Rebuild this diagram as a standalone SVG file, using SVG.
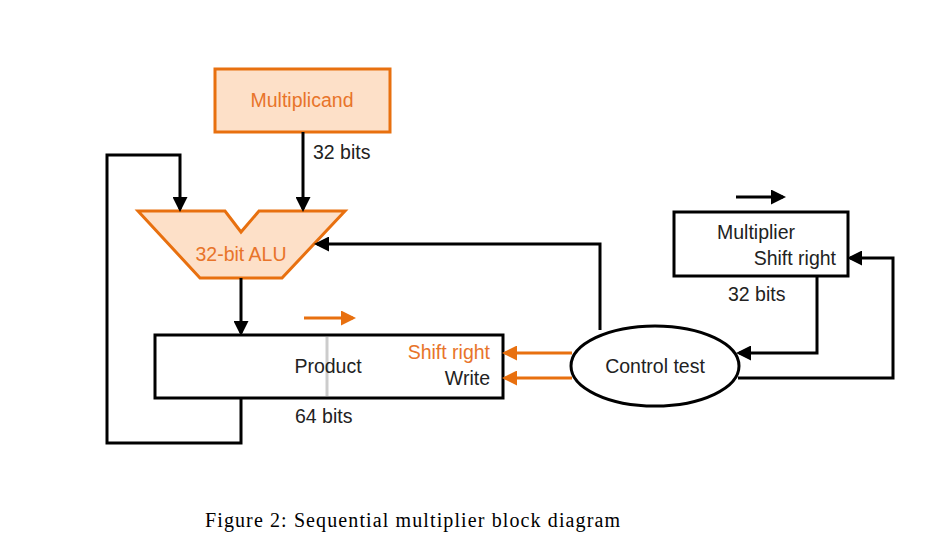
<svg xmlns="http://www.w3.org/2000/svg" width="950" height="547" viewBox="0 0 950 547">
<style>
.t{font-family:"Liberation Sans",Arial,sans-serif;font-size:19.5px;fill:#222}
.o{fill:#e8742a}
.w{fill:none;stroke:#000;stroke-width:3}
.ow{fill:none;stroke:#e8700f;stroke-width:3}
</style>
<defs>
<marker id="a" markerWidth="5" markerHeight="5" refX="4" refY="2.5" orient="auto" markerUnits="strokeWidth"><path d="M0,0L5,2.5L0,5z" fill="#000"/></marker>
<marker id="b" markerWidth="5" markerHeight="5" refX="4" refY="2.5" orient="auto" markerUnits="strokeWidth"><path d="M0,0L5,2.5L0,5z" fill="#e8700f"/></marker>
</defs>
<rect width="950" height="547" fill="#fff"/>
<g id="multiplicand"><rect x="215" y="69" width="175" height="63" fill="#fde0c8" stroke="#e8700f" stroke-width="3"/><text class="t o" x="302" y="107" text-anchor="middle">Multiplicand</text></g>
<g id="alu"><polygon points="138,211 225,211 241,232 259,211 345,211 282,278 200,278" fill="#fde0c8" stroke="#e8700f" stroke-width="3"/><text class="t o" x="241" y="261" text-anchor="middle">32-bit ALU</text></g>
<g id="product"><rect x="155" y="335" width="348" height="63" fill="#fff" stroke="#000" stroke-width="3"/><line x1="327" y1="337" x2="327" y2="396" stroke="#ccc" stroke-width="3"/><text class="t" x="328" y="373" text-anchor="middle">Product</text><text class="t o" x="490" y="359" text-anchor="end">Shift right</text><text class="t" x="490" y="385" text-anchor="end">Write</text></g>
<g id="multiplier"><rect x="674" y="212" width="174" height="64" fill="#fff" stroke="#000" stroke-width="3"/><text class="t" x="717" y="239">Multiplier</text><text class="t" x="836" y="265" text-anchor="end">Shift right</text></g>
<g id="control"><ellipse cx="655" cy="366" rx="84" ry="40" fill="#fff" stroke="#000" stroke-width="3"/><text class="t" x="655" y="373" text-anchor="middle">Control test</text></g>
<g id="labels"><text class="t" x="313" y="159">32 bits</text><text class="t" x="728" y="301">32 bits</text><text class="t" x="295" y="423">64 bits</text>
<text x="205" y="527" textLength="415" font-family="Liberation Serif,serif" font-size="20" fill="#000">Figure 2: Sequential multiplier block diagram</text></g>
<g id="connectors">
<path class="w" d="M303,132V209" marker-end="url(#a)"/>
<path class="w" d="M241,398V443H107V155H180V209" marker-end="url(#a)"/>
<path class="w" d="M241,278V333" marker-end="url(#a)"/>
<path class="w" d="M600,330V244H317" marker-end="url(#a)"/>
<path class="w" d="M817,276V353H739" marker-end="url(#a)"/>
<path class="w" d="M738,378H893V258H850" marker-end="url(#a)"/>
<path class="w" d="M736,197H783" marker-end="url(#a)"/>
<path class="ow" d="M304,318H353" marker-end="url(#b)"/>
<path class="ow" d="M572,353H505" marker-end="url(#b)"/>
<path class="ow" d="M572,378H505" marker-end="url(#b)"/>
</g>
</svg>
